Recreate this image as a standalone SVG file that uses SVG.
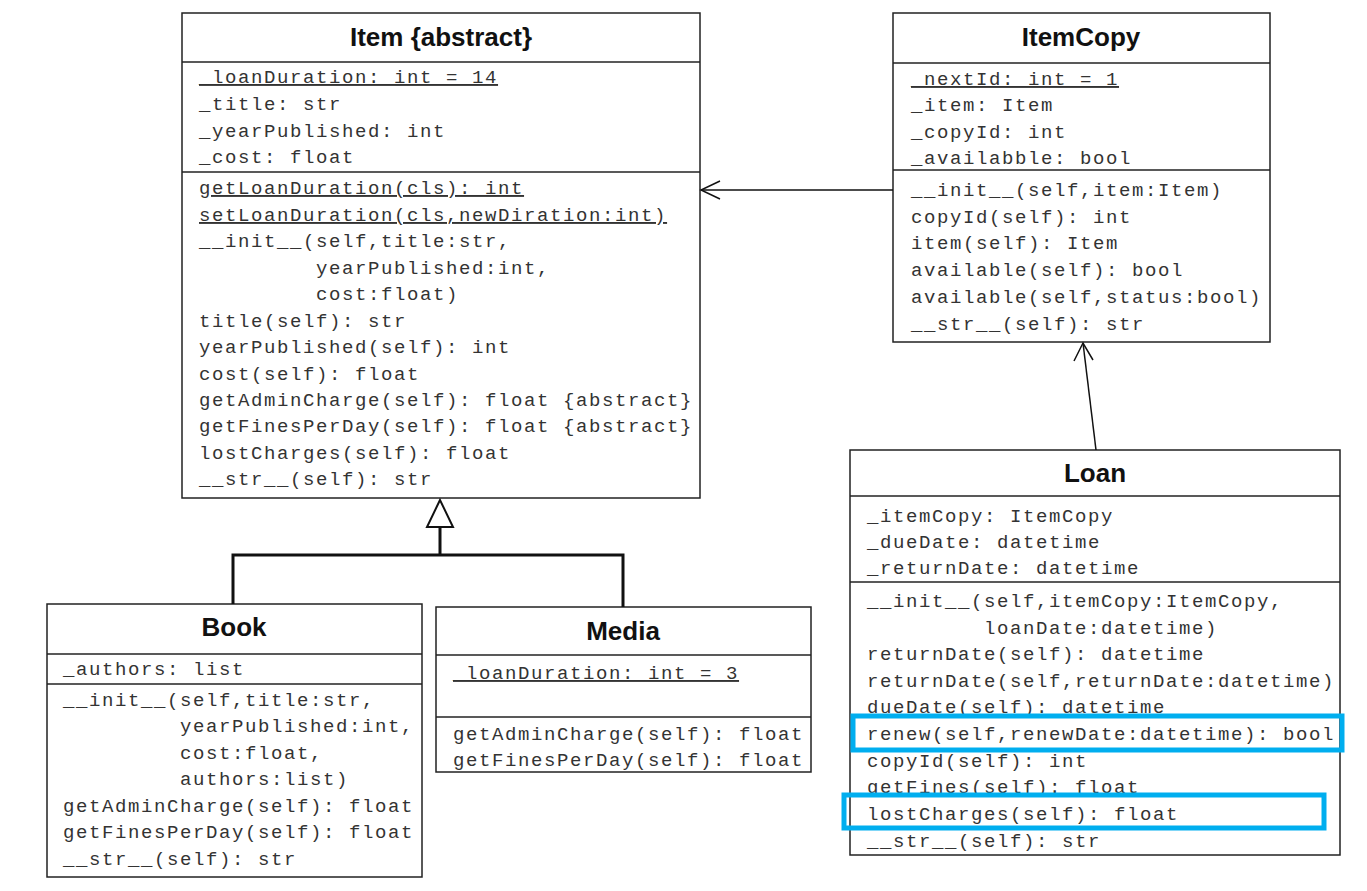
<svg xmlns="http://www.w3.org/2000/svg" width="1367" height="891" viewBox="0 0 1367 891">
<style>
.box{fill:#fff;stroke:#222;stroke-width:1.5}
.sep{stroke:#222;stroke-width:1.5}
.t{font-family:"Liberation Sans",Arial,sans-serif;font-weight:bold;font-size:26px;fill:#111;text-anchor:middle}
.m{font-family:"Liberation Mono","DejaVu Sans Mono",monospace;font-size:19px;letter-spacing:1.6px;fill:#333;white-space:pre}
.u{text-decoration:underline}
.hl{fill:none;stroke:#00AEEF;stroke-width:5}
.c{fill:none;stroke:#111;stroke-width:1.5}
.g{fill:none;stroke:#111;stroke-width:3}
</style>
<rect width="1367" height="891" fill="#fff"/>
<g id="Item">
<rect class="box" x="182" y="13" width="518" height="485"/>
<line class="sep" x1="182" y1="62" x2="700" y2="62"/>
<line class="sep" x1="182" y1="172" x2="700" y2="172"/>
<text class="t" x="441" y="46">Item {abstract}</text>
<text class="m u" x="199" y="83">_loanDuration: int = 14</text>
<text class="m" x="199" y="110">_title: str</text>
<text class="m" x="199" y="137">_yearPublished: int</text>
<text class="m" x="199" y="163">_cost: float</text>
<text class="m u" x="199" y="194">getLoanDuration(cls): int</text>
<text class="m u" x="199" y="221">setLoanDuration(cls,newDiration:int)</text>
<text class="m" x="199" y="247">__init__(self,title:str,</text>
<text class="m" x="199" y="274">         yearPublished:int,</text>
<text class="m" x="199" y="300">         cost:float)</text>
<text class="m" x="199" y="327">title(self): str</text>
<text class="m" x="199" y="353">yearPublished(self): int</text>
<text class="m" x="199" y="380">cost(self): float</text>
<text class="m" x="199" y="406">getAdminCharge(self): float {abstract}</text>
<text class="m" x="199" y="432">getFinesPerDay(self): float {abstract}</text>
<text class="m" x="199" y="459">lostCharges(self): float</text>
<text class="m" x="199" y="485">__str__(self): str</text>
</g>
<g id="ItemCopy">
<rect class="box" x="893" y="13" width="377" height="329"/>
<line class="sep" x1="893" y1="63" x2="1270" y2="63"/>
<line class="sep" x1="893" y1="170" x2="1270" y2="170"/>
<text class="t" x="1081" y="46">ItemCopy</text>
<text class="m u" x="911" y="85">_nextId: int = 1</text>
<text class="m" x="911" y="111">_item: Item</text>
<text class="m" x="911" y="138">_copyId: int</text>
<text class="m" x="911" y="164">_availabble: bool</text>
<text class="m" x="911" y="196">__init__(self,item:Item)</text>
<text class="m" x="911" y="223">copyId(self): int</text>
<text class="m" x="911" y="249">item(self): Item</text>
<text class="m" x="911" y="276">available(self): bool</text>
<text class="m" x="911" y="303">available(self,status:bool)</text>
<text class="m" x="911" y="330">__str__(self): str</text>
</g>
<g id="Loan">
<rect class="box" x="850" y="450" width="490" height="405"/>
<line class="sep" x1="850" y1="496" x2="1340" y2="496"/>
<line class="sep" x1="850" y1="582" x2="1340" y2="582"/>
<text class="t" x="1095" y="482">Loan</text>
<text class="m" x="867" y="522">_itemCopy: ItemCopy</text>
<text class="m" x="867" y="548">_dueDate: datetime</text>
<text class="m" x="867" y="574">_returnDate: datetime</text>
<text class="m" x="867" y="607">__init__(self,itemCopy:ItemCopy,</text>
<text class="m" x="867" y="634">         loanDate:datetime)</text>
<text class="m" x="867" y="660">returnDate(self): datetime</text>
<text class="m" x="867" y="687">returnDate(self,returnDate:datetime)</text>
<text class="m" x="867" y="713">dueDate(self): datetime</text>
<text class="m" x="867" y="740">renew(self,renewDate:datetime): bool</text>
<text class="m" x="867" y="767">copyId(self): int</text>
<text class="m" x="867" y="793">getFines(self): float</text>
<text class="m" x="867" y="820">lostCharges(self): float</text>
<text class="m" x="867" y="847">__str__(self): str</text>
<rect class="hl" x="853" y="716" width="489" height="34"/>
<rect class="hl" x="844" y="795" width="480" height="33"/>
</g>
<g id="Book">
<rect class="box" x="47" y="604" width="375" height="273"/>
<line class="sep" x1="47" y1="654" x2="422" y2="654"/>
<line class="sep" x1="47" y1="684" x2="422" y2="684"/>
<text class="t" x="234" y="636">Book</text>
<text class="m" x="63" y="675">_authors: list</text>
<text class="m" x="63" y="706">__init__(self,title:str,</text>
<text class="m" x="63" y="732">         yearPublished:int,</text>
<text class="m" x="63" y="759">         cost:float,</text>
<text class="m" x="63" y="785">         authors:list)</text>
<text class="m" x="63" y="812">getAdminCharge(self): float</text>
<text class="m" x="63" y="838">getFinesPerDay(self): float</text>
<text class="m" x="63" y="865">__str__(self): str</text>
</g>
<g id="Media">
<rect class="box" x="436" y="607" width="375" height="165"/>
<line class="sep" x1="436" y1="655" x2="811" y2="655"/>
<line class="sep" x1="436" y1="717" x2="811" y2="717"/>
<text class="t" x="623" y="640">Media</text>
<text class="m u" x="453" y="679">_loanDuration: int = 3</text>
<text class="m" x="453" y="740">getAdminCharge(self): float</text>
<text class="m" x="453" y="766">getFinesPerDay(self): float</text>
</g>
<g id="connectors">
<line class="c" x1="893" y1="190" x2="701" y2="190"/>
<polyline class="c" points="720,181 701,190 720,199"/>
<line class="c" x1="1096" y1="450" x2="1083" y2="343"/>
<polyline class="c" points="1074,361 1083,343 1093,360"/>
<polygon points="440,500 427,527 453,527" fill="#fff" stroke="#111" stroke-width="2"/>
<polyline class="g" points="440,527 440,555"/>
<polyline class="g" points="233,604 233,555 623,555 623,607"/>
</g>
</svg>
